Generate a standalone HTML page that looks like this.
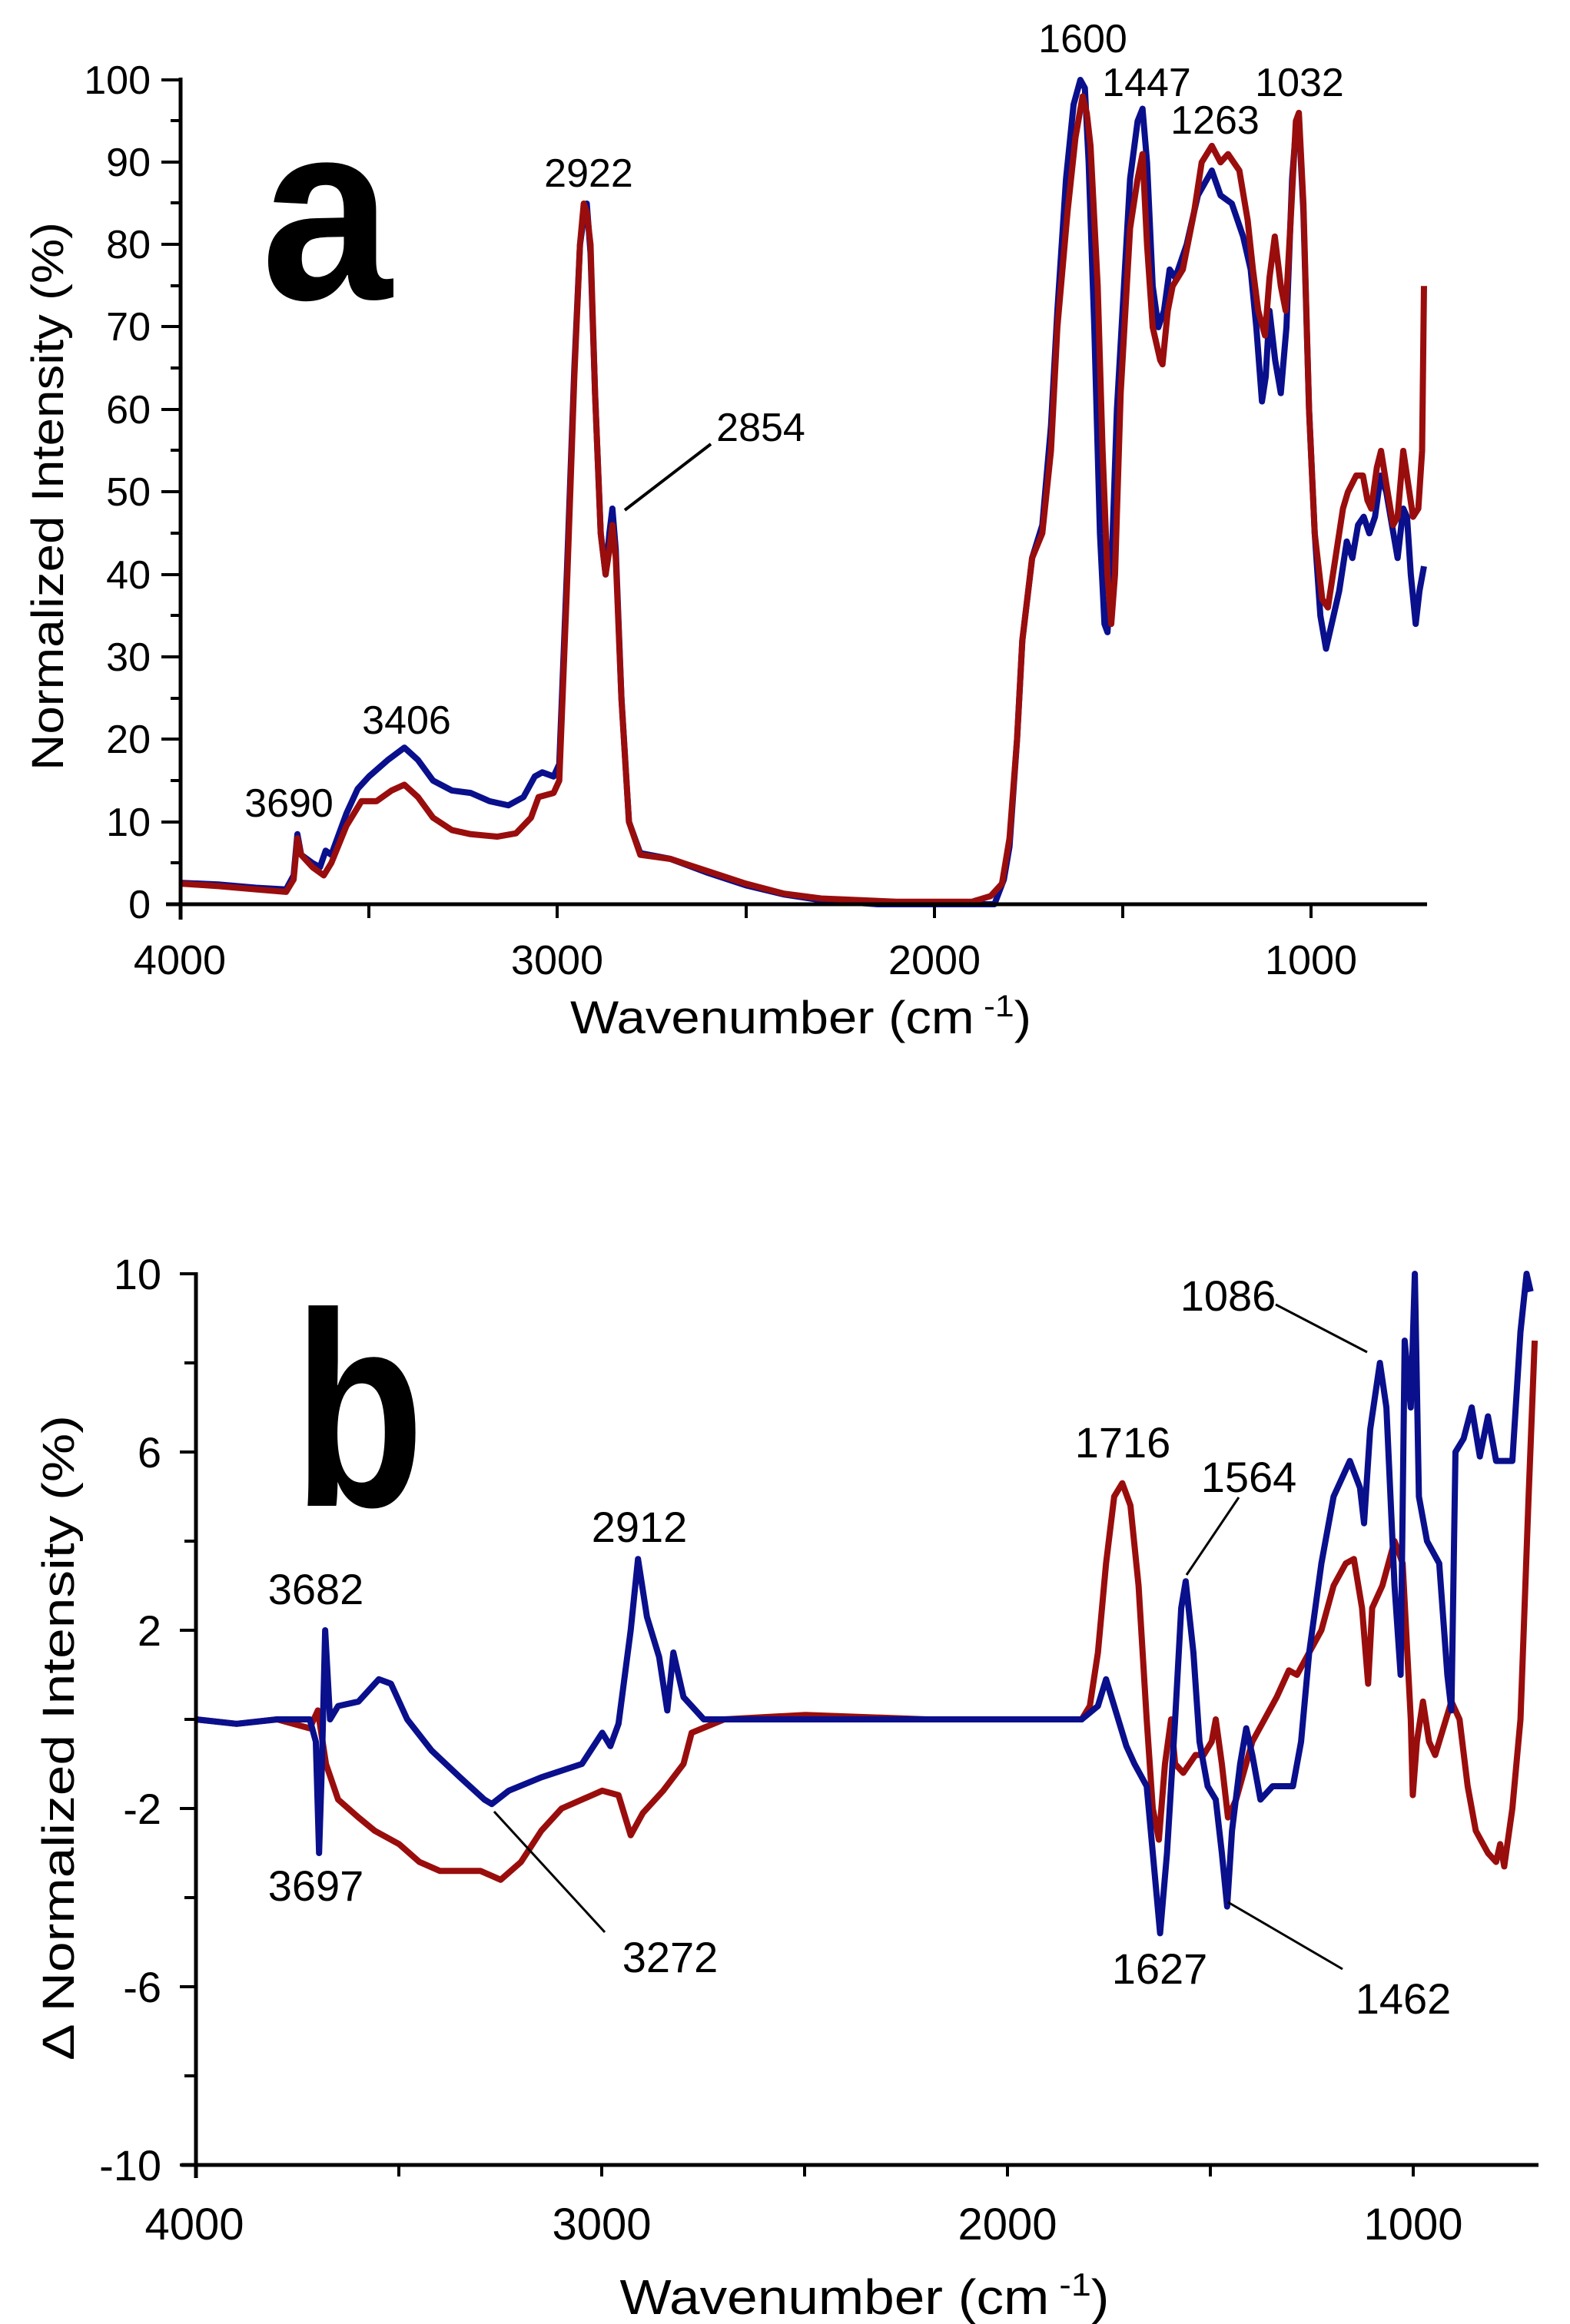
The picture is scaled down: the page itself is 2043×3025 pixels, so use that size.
<!DOCTYPE html>
<html><head><meta charset="utf-8"><style>
html,body{margin:0;padding:0;background:#fff;}
svg{display:block;}
text{font-family:"Liberation Sans",Arial,sans-serif;fill:#000;}
.c{fill:none;stroke-width:8;stroke-linejoin:round;vector-effect:non-scaling-stroke;}
.bl{stroke:#0a0f8c;}
.rd{stroke:#9a0d0d;}
</style></head><body>
<svg width="2043" height="3025" viewBox="0 0 2043 3025" xmlns="http://www.w3.org/2000/svg">
<rect width="2043" height="3025" fill="#fff"/>

<!-- ============ PANEL A ============ -->
<g transform="matrix(-0.4903,0,0,-10.73,2196.2,1177)">
<polyline class="c bl" points="4000,2.6 3900,2.4 3800,2 3720,1.8 3700,3.5 3690,8.5 3680,6 3650,5 3630,4.5 3615,6.5 3600,6 3560,11 3530,14 3500,15.5 3450,17.5 3406,19 3370,17.5 3330,15 3280,13.8 3230,13.5 3180,12.5 3130,12 3090,13 3060,15.5 3040,16 3010,15.5 2995,17 2975,40 2955,65 2940,80 2928,84 2922,85 2912,79 2900,62 2885,45 2872,40 2862,45 2854,48 2845,43 2830,25 2810,10 2780,6.2 2700,5.5 2600,3.8 2500,2.3 2400,1.2 2300,0.5 2150,0 1900,0 1840,0 1815,3 1800,7 1780,20 1766,32 1740,42 1713,46 1690,58 1673,72 1650,88 1630,97 1612,100 1600,99 1590,90 1575,70 1560,45 1548,34 1540,33 1530,40 1515,60 1500,72 1480,88 1460,95 1447,96.5 1435,90 1420,75 1405,70 1390,72 1375,77 1360,76 1330,80 1300,86 1263,89 1240,86 1210,85 1180,81 1160,77 1145,70 1130,61 1120,64 1110,72 1095,66 1080,62 1065,70 1050,88 1040,94 1032,95 1020,84 1005,60 990,45 975,35 960,31 945,34 925,38 905,44 890,42 875,46 860,47 845,45 830,47 815,52 800,50 785,46 770,42 755,48 745,47 735,40 722,34 712,38 700,41"/>
<polyline class="c rd" points="4000,2.5 3900,2.2 3800,1.8 3720,1.5 3700,3 3690,8 3680,6 3650,4.5 3620,3.5 3600,5 3560,9.5 3520,12.5 3480,12.5 3440,13.8 3406,14.5 3370,13 3330,10.5 3280,9 3230,8.5 3160,8.2 3110,8.6 3070,10.5 3050,13 3010,13.5 2995,15 2975,38 2955,64 2940,80 2930,85 2922,84 2912,80 2900,62 2885,45 2872,40 2862,43 2854,46 2845,42 2830,25 2810,10 2780,6 2700,5.5 2600,4 2500,2.5 2400,1.3 2300,0.7 2100,0.3 1900,0.3 1850,1 1820,2.5 1800,8 1780,20 1766,32 1740,42 1713,45 1690,55 1673,70 1646,84 1625,93 1606,98 1595,96 1585,92 1566,75 1553,55 1540,40 1530,34 1520,40 1505,62 1480,82 1460,88 1447,91 1435,80 1420,70 1400,66 1394,65.5 1380,72 1367,75 1340,77 1310,84 1290,90 1263,92 1240,90 1220,91 1190,89 1168,83 1154,77 1140,72 1122,69 1110,76 1096,81 1080,75 1067,72 1055,82 1040,95 1032,96 1020,85 1005,60 990,45 970,37 955,36 935,42 915,48 902,50 880,52 862,52 850,49 840,48 825,53 814,55 800,51 782,46 770,47 755,55 742,51 729,47 715,48 705,55 700,75"/>
</g>
<!-- axes a -->
<g stroke="#000" stroke-width="5" fill="none">
<line x1="235" y1="101" x2="235" y2="1197"/>
<line x1="216" y1="1177" x2="1857" y2="1177"/>
</g>
<g stroke="#000" stroke-width="4">
<line x1="210" y1="104" x2="235" y2="104"/><line x1="210" y1="211" x2="235" y2="211"/><line x1="210" y1="318" x2="235" y2="318"/><line x1="210" y1="425" x2="235" y2="425"/><line x1="210" y1="533" x2="235" y2="533"/><line x1="210" y1="640" x2="235" y2="640"/><line x1="210" y1="748" x2="235" y2="748"/><line x1="210" y1="855" x2="235" y2="855"/><line x1="210" y1="962" x2="235" y2="962"/><line x1="210" y1="1070" x2="235" y2="1070"/>
<line x1="222" y1="157" x2="235" y2="157"/><line x1="222" y1="264" x2="235" y2="264"/><line x1="222" y1="372" x2="235" y2="372"/><line x1="222" y1="479" x2="235" y2="479"/><line x1="222" y1="586" x2="235" y2="586"/><line x1="222" y1="694" x2="235" y2="694"/><line x1="222" y1="801" x2="235" y2="801"/><line x1="222" y1="909" x2="235" y2="909"/><line x1="222" y1="1016" x2="235" y2="1016"/><line x1="222" y1="1123" x2="235" y2="1123"/>
<line x1="480" y1="1177" x2="480" y2="1195"/><line x1="725" y1="1177" x2="725" y2="1195"/><line x1="971" y1="1177" x2="971" y2="1195"/><line x1="1216" y1="1177" x2="1216" y2="1195"/><line x1="1461" y1="1177" x2="1461" y2="1195"/><line x1="1706" y1="1177" x2="1706" y2="1195"/>
</g>
<g font-size="52" text-anchor="end">
<text x="196" y="122">100</text><text x="196" y="229">90</text><text x="196" y="336">80</text><text x="196" y="443">70</text><text x="196" y="551">60</text><text x="196" y="658">50</text><text x="196" y="766">40</text><text x="196" y="873">30</text><text x="196" y="980">20</text><text x="196" y="1088">10</text><text x="196" y="1195">0</text>
</g>
<g font-size="54" text-anchor="middle">
<text x="234" y="1268">4000</text><text x="725" y="1268">3000</text><text x="1216" y="1268">2000</text><text x="1706" y="1268">1000</text>
</g>
<text x="1042" y="1345" font-size="60" text-anchor="middle" textLength="600" lengthAdjust="spacingAndGlyphs">Wavenumber (cm<tspan font-size="40" dy="-22"> -1</tspan><tspan dy="22">)</tspan></text>
<text transform="translate(82,646) rotate(-90)" font-size="58" text-anchor="middle" textLength="714" lengthAdjust="spacingAndGlyphs">Normalized Intensity (%)</text>
<text x="340" y="389" font-size="330" font-weight="bold" textLength="170" lengthAdjust="spacingAndGlyphs">a</text>
<g font-size="52" text-anchor="middle">
<text x="1409" y="68">1600</text><text x="1492" y="125">1447</text><text x="1581" y="174">1263</text><text x="1691" y="125">1032</text>
<text x="766" y="243">2922</text><text x="990" y="574">2854</text><text x="529" y="955">3406</text><text x="376" y="1063">3690</text>
</g>
<line x1="925" y1="578" x2="813" y2="664" stroke="#000" stroke-width="4"/>

<!-- ============ PANEL B ============ -->
<g transform="matrix(-0.5287,0,0,-58,2369.8,2238)">
<polyline class="c rd" points="4000,0 3900,-0.1 3800,0 3720,-0.2 3700,0.2 3680,-1 3650,-1.8 3600,-2.2 3560,-2.5 3500,-2.8 3450,-3.2 3400,-3.4 3300,-3.4 3250,-3.6 3200,-3.2 3150,-2.5 3100,-2 3000,-1.6 2960,-1.7 2930,-2.6 2900,-2.1 2850,-1.6 2800,-1 2780,-0.3 2700,0 2500,0.1 2200,0 1820,0 1800,0.3 1780,1.5 1760,3.5 1740,5 1720,5.3 1700,4.8 1680,3 1660,0 1645,-2 1630,-2.7 1615,-1 1600,0 1590,-1 1570,-1.2 1540,-0.8 1520,-0.8 1500,-0.5 1490,0 1475,-1 1460,-2.2 1440,-1.8 1400,-0.5 1370,0 1340,0.5 1310,1.1 1290,1 1260,1.5 1230,2 1200,3 1170,3.5 1150,3.6 1130,2.5 1115,0.8 1105,2.5 1080,3 1050,4 1030,3.5 1010,0 1005,-1.7 995,-0.5 980,0.4 965,-0.5 950,-0.8 930,-0.2 910,0.4 890,0 870,-1.5 850,-2.5 820,-3 800,-3.2 790,-2.8 780,-3.3 760,-2 740,0 720,5 705,8.5"/>
<polyline class="c bl" points="4000,0 3900,-0.1 3800,0 3720,0 3705,-0.5 3697,-3 3690,-1 3682,2 3670,0 3650,0.3 3600,0.4 3550,0.9 3520,0.8 3480,0 3420,-0.7 3350,-1.3 3290,-1.8 3272,-1.9 3230,-1.6 3150,-1.3 3050,-1 3000,-0.3 2980,-0.6 2960,-0.1 2930,2 2912,3.6 2890,2.3 2860,1.4 2840,0.2 2825,1.5 2800,0.5 2750,0 2500,0 1820,0 1780,0.3 1760,0.9 1740,0.3 1710,-0.6 1690,-1 1660,-1.5 1640,-3.5 1627,-4.8 1610,-3 1590,0 1575,2.5 1564,3.1 1545,1.5 1530,-0.5 1510,-1.5 1490,-1.8 1475,-3 1462,-4.2 1450,-2.5 1430,-1 1415,-0.2 1400,-0.8 1380,-1.8 1350,-1.5 1300,-1.5 1280,-0.5 1260,1.5 1230,3.5 1200,5 1160,5.8 1135,5.2 1125,4.4 1110,6.5 1086,8 1070,7 1050,3 1035,1 1025,8.5 1010,7 1000,10 990,5 970,4 940,3.5 920,1 910,0.2 900,6 880,6.3 860,7 840,5.9 820,6.8 800,5.8 760,5.8 740,8.7 725,10 715,9.6"/>
</g>
<g stroke="#000" stroke-width="5" fill="none">
<line x1="255" y1="1656" x2="255" y2="2835"/>
<line x1="236" y1="2818" x2="2002" y2="2818"/>
</g>
<g stroke="#000" stroke-width="4">
<line x1="234" y1="1658" x2="255" y2="1658"/><line x1="240" y1="1774" x2="255" y2="1774"/><line x1="234" y1="1890" x2="255" y2="1890"/><line x1="240" y1="2006" x2="255" y2="2006"/><line x1="234" y1="2122" x2="255" y2="2122"/><line x1="240" y1="2238" x2="255" y2="2238"/><line x1="234" y1="2354" x2="255" y2="2354"/><line x1="240" y1="2470" x2="255" y2="2470"/><line x1="234" y1="2586" x2="255" y2="2586"/><line x1="240" y1="2702" x2="255" y2="2702"/><line x1="234" y1="2818" x2="255" y2="2818"/>
<line x1="519" y1="2818" x2="519" y2="2833"/><line x1="783" y1="2818" x2="783" y2="2833"/><line x1="1047" y1="2818" x2="1047" y2="2833"/><line x1="1311" y1="2818" x2="1311" y2="2833"/><line x1="1575" y1="2818" x2="1575" y2="2833"/><line x1="1839" y1="2818" x2="1839" y2="2833"/>
</g>
<g font-size="56" text-anchor="end">
<text x="210" y="1678">10</text><text x="210" y="1910">6</text><text x="210" y="2142">2</text><text x="210" y="2374">-2</text><text x="210" y="2606">-6</text><text x="210" y="2838">-10</text>
</g>
<g font-size="58" text-anchor="middle">
<text x="253" y="2915">4000</text><text x="783" y="2915">3000</text><text x="1311" y="2915">2000</text><text x="1839" y="2915">1000</text>
</g>
<text x="1125" y="3012" font-size="64" text-anchor="middle" textLength="637" lengthAdjust="spacingAndGlyphs">Wavenumber (cm<tspan font-size="42" dy="-24"> -1</tspan><tspan dy="24">)</tspan></text>
<text transform="translate(96,2262) rotate(-90)" font-size="58" text-anchor="middle" textLength="840" lengthAdjust="spacingAndGlyphs">Δ Normalized Intensity (%)</text>
<text x="382" y="1960" font-size="360" font-weight="bold" textLength="170" lengthAdjust="spacingAndGlyphs">b</text>
<g font-size="56" text-anchor="middle">
<text x="1598" y="1706">1086</text><text x="1461" y="1897">1716</text><text x="1625" y="1942">1564</text><text x="832" y="2007">2912</text>
<text x="411" y="2088">3682</text><text x="411" y="2474">3697</text><text x="872" y="2567">3272</text><text x="1509" y="2582">1627</text><text x="1826" y="2621">1462</text>
</g>
<g stroke="#000" stroke-width="3">
<line x1="1660" y1="1698" x2="1779" y2="1760"/>
<line x1="1612" y1="1949" x2="1544" y2="2050"/>
<line x1="787" y1="2515" x2="643" y2="2358"/>
<line x1="1747" y1="2563" x2="1598" y2="2476"/>
</g>
</svg>
</body></html>
